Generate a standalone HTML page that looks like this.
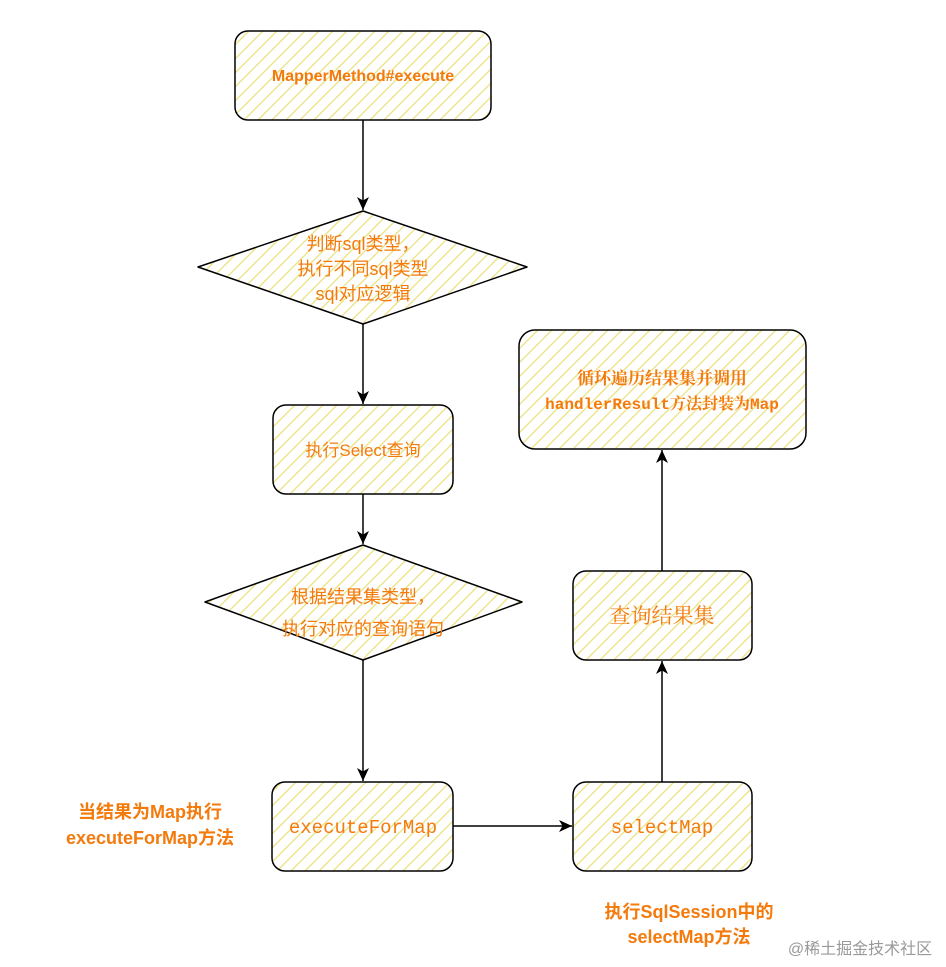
<!DOCTYPE html>
<html><head><meta charset="utf-8"><style>
html,body{margin:0;padding:0;background:#fff;}
svg{display:block;}
.o{fill:#f47a0c;}
</style></head><body>
<svg width="946" height="967" viewBox="0 0 946 967" xmlns="http://www.w3.org/2000/svg">
<defs>
<pattern id="h" patternUnits="userSpaceOnUse" width="14" height="14">
<rect width="14" height="14" fill="#fff"/>
<path d="M-2,16 L16,-2 M-2,2 L2,-2 M12,16 L16,12" stroke="#ece38a" stroke-width="1.4"/>
</pattern>
<marker id="a" markerWidth="14" markerHeight="14" refX="13" refY="6" orient="auto" markerUnits="userSpaceOnUse">
<path d="M0,0 L13,6 L0,12 L3.5,6 Z" fill="#000"/>
</marker>
</defs>
<g stroke="#000" stroke-width="1.5">
<rect x="235" y="31" width="256" height="89" rx="13" fill="url(#h)"/>
<path d="M363,211 L527,267 L363,324 L198,267 Z" fill="url(#h)" stroke-linejoin="round"/>
<rect x="273" y="405" width="180" height="89" rx="13" fill="url(#h)"/>
<path d="M363,545 L522,602 L363,660 L205,602 Z" fill="url(#h)" stroke-linejoin="round"/>
<rect x="272" y="782" width="181" height="89" rx="13" fill="url(#h)"/>
<rect x="573" y="782" width="179" height="89" rx="13" fill="url(#h)"/>
<rect x="573" y="571" width="179" height="89" rx="13" fill="url(#h)"/>
<rect x="519" y="330" width="287" height="119" rx="16" fill="url(#h)"/>
</g>
<g stroke="#000" stroke-width="1.5" fill="none" marker-end="url(#a)">
<line x1="363" y1="120" x2="363" y2="210"/>
<line x1="363" y1="324" x2="363" y2="404"/>
<line x1="363" y1="494" x2="363" y2="544"/>
<line x1="363" y1="660" x2="363" y2="781"/>
<line x1="453" y1="826" x2="572" y2="826"/>
<line x1="662" y1="782" x2="662" y2="661"/>
<line x1="662" y1="571" x2="662" y2="450"/>
</g>
<g class="o" text-anchor="middle" font-family="Liberation Sans, Noto Sans CJK SC, sans-serif">
<text x="363" y="81" font-size="16" font-weight="bold">MapperMethod#execute</text>
<text x="363" y="250" font-size="18">判断sql类型，</text>
<text x="363" y="275" font-size="18">执行不同sql类型</text>
<text x="363" y="300" font-size="18">sql对应逻辑</text>
<text x="363" y="456" font-size="17">执行Select查询</text>
<text x="363" y="610" font-size="18" dy="-7">根据结果集类型，</text>
<text x="363" y="610" font-size="18" dy="25">执行对应的查询语句</text>
<text x="363" y="833" font-size="19" font-family="Liberation Mono, monospace">executeForMap</text>
<text x="662" y="833" font-size="19" font-family="Liberation Mono, monospace">selectMap</text>
<text x="662" y="623" font-size="21" font-family="Liberation Serif, Noto Serif CJK SC, serif">查询结果集</text>
<text x="662" y="384" font-size="17" font-weight="bold" font-family="Liberation Mono, Noto Serif CJK SC, monospace">循环遍历结果集并调用</text>
<text x="662" y="409" font-size="16" font-weight="bold" font-family="Liberation Mono, Noto Serif CJK SC, monospace">handlerResult方法封装为Map</text>
<text x="150" y="818" font-size="18" font-weight="bold">当结果为Map执行</text>
<text x="150" y="844" font-size="18" font-weight="bold">executeForMap方法</text>
<text x="689" y="918" font-size="18" font-weight="bold">执行SqlSession中的</text>
<text x="689" y="943" font-size="18" font-weight="bold">selectMap方法</text>
</g>
<text x="860" y="954" text-anchor="middle" font-size="16" fill="#999" font-family="Liberation Sans, Noto Sans CJK SC, sans-serif">@稀土掘金技术社区</text>
</svg>
</body></html>
